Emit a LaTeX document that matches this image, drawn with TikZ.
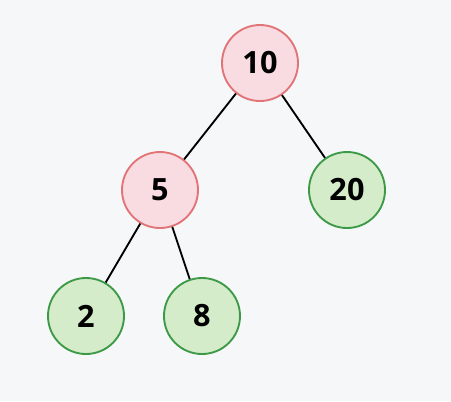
\documentclass[tikz,border=0pt]{standalone}
\usepackage{fontspec}
\setmainfont{Open Sans}
\definecolor{bgcol}{HTML}{F5F7F9}
\definecolor{redfill}{HTML}{F8DCE2}
\definecolor{redline}{HTML}{E27377}
\definecolor{greenfill}{HTML}{D5ECCB}
\definecolor{greenline}{HTML}{3C9A47}
\tikzset{
  keynode/.style={circle,draw,line width=1.4pt,minimum size=57pt,inner sep=0pt,
    font=\fontsize{23}{25}\selectfont\bfseries},
  rednode/.style={keynode,fill=redfill,draw=redline},
  greennode/.style={keynode,fill=greenfill,draw=greenline},
  edge/.style={line width=1.4pt,black}
}
\begin{document}
\begin{tikzpicture}[x=0.75pt,y=-0.75pt]
\fill[bgcol] (0,0) rectangle (451,401);
\useasboundingbox (0,0) rectangle (451,401);

% tree nodes
\node[rednode]   (n10) at (260,63)  {10};
\node[rednode]   (n5)  at (160,190) {5};
\node[greennode] (n20) at (347,190) {20};
\node[greennode] (n2)  at (86,316)  {2};
\node[greennode] (n8)  at (202,316) {8};

% edges
\draw[edge] (n10) -- (n5);
\draw[edge] (n10) -- (n20);
\draw[edge] (n5) -- (n2);
\draw[edge] (n5) -- (n8);
\end{tikzpicture}
\end{document}
